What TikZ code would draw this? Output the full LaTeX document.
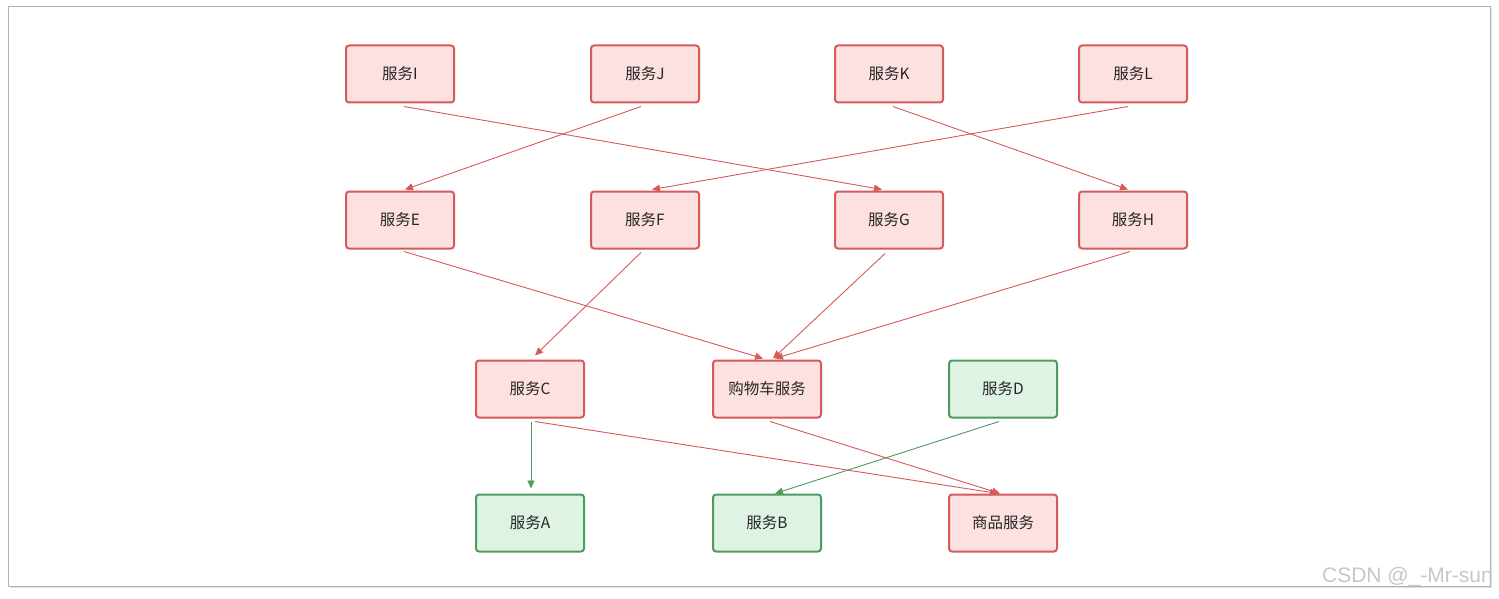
\documentclass[tikz,border=0pt]{standalone}
\usepackage{fontspec}
\setmainfont{Noto Sans CJK SC}
\usetikzlibrary{arrows.meta}
\definecolor{redline}{HTML}{D65A5A}
\definecolor{redfill}{HTML}{FDE0E0}
\definecolor{greenline}{HTML}{4E9A5F}
\definecolor{greenfill}{HTML}{DFF3E4}
\begin{document}
\begin{tikzpicture}[x=1pt,y=-1pt]
	\tikzset{svc/.style={rectangle, rounded corners=3pt, line width=2pt, minimum width=108pt, minimum height=57pt, font=\fontsize{15.5}{18}\selectfont, text=black!85}};
	\tikzset{red/.style={svc, draw=redline, fill=redfill}};
	\tikzset{green/.style={svc, draw=greenline, fill=greenfill}};
	\tikzset{rarr/.style={draw=redline, line width=0.9pt, -{Triangle[length=8pt,width=7pt]}}};
	\tikzset{garr/.style={draw=greenline, line width=0.9pt, -{Triangle[length=8pt,width=7pt]}}};
	\useasboundingbox (0,0) rectangle (1499,599);
	\fill[black!12] (10,8) rectangle (1492,588);
	\draw[black!30, fill=white] (8,6) rectangle (1490,586);
	\node[red] (i) at (400,74) {服务I};
	\node[red] (j) at (645,74) {服务J};
	\node[red] (k) at (889,74) {服务K};
	\node[red] (l) at (1133,74) {服务L};
	\node[red] (e) at (400,220) {服务E};
	\node[red] (f) at (645,220) {服务F};
	\node[red] (g) at (889,220) {服务G};
	\node[red] (h) at (1133,220) {服务H};
	\node[red] (c) at (530,389) {服务C};
	\node[red] (cart) at (767,389) {购物车服务};
	\node[green] (d) at (1003,389) {服务D};
	\node[green] (a) at (530,523) {服务A};
	\node[green] (b) at (767,523) {服务B};
	\node[red] (goods) at (1003,523) {商品服务};

	\draw[rarr] ([xshift=4pt,yshift=-3pt]i.south) -- ([xshift=-7pt,yshift=1pt]g.north);
	\draw[rarr] ([xshift=-4pt,yshift=-3pt]j.south) -- ([xshift=5pt,yshift=1pt]e.north);
	\draw[rarr] ([xshift=4pt,yshift=-3pt]k.south) -- ([xshift=-5pt,yshift=1pt]h.north);
	\draw[rarr] ([xshift=-5pt,yshift=-3pt]l.south) -- ([xshift=7pt,yshift=1pt]f.north);
	\draw[rarr] ([xshift=4pt,yshift=-2pt]e.south) -- ([xshift=-4pt,yshift=1pt]cart.north);
	\draw[rarr] ([xshift=-4pt,yshift=-3pt]f.south) -- ([xshift=5pt,yshift=4pt]c.north);
	\draw[rarr] ([xshift=-4pt,yshift=-4pt]g.south) -- ([xshift=6pt,yshift=1pt]cart.north);
	\draw[rarr] ([xshift=-3pt,yshift=-2pt]h.south) -- ([xshift=8pt,yshift=1pt]cart.north);
	\draw[garr] ([xshift=1pt,yshift=-3pt]c.south) -- ([xshift=1pt,yshift=5pt]a.north);
	\draw[rarr] ([xshift=5pt,yshift=-3pt]c.south) -- ([xshift=-5pt,yshift=0pt]goods.north);
	\draw[rarr] ([xshift=3pt,yshift=-3pt]cart.south) -- ([xshift=-3pt,yshift=0pt]goods.north);
	\draw[garr] ([xshift=-4pt,yshift=-3pt]d.south) -- ([xshift=8pt,yshift=0pt]b.north);

	\node[text=black!22, font=\fontsize{21}{24}\selectfont\fontspec{Liberation Sans}, anchor=south east, inner sep=0pt] (mark) at (1493,587) {CSDN @\_-Mr-sun};
\end{tikzpicture}
\end{document}
